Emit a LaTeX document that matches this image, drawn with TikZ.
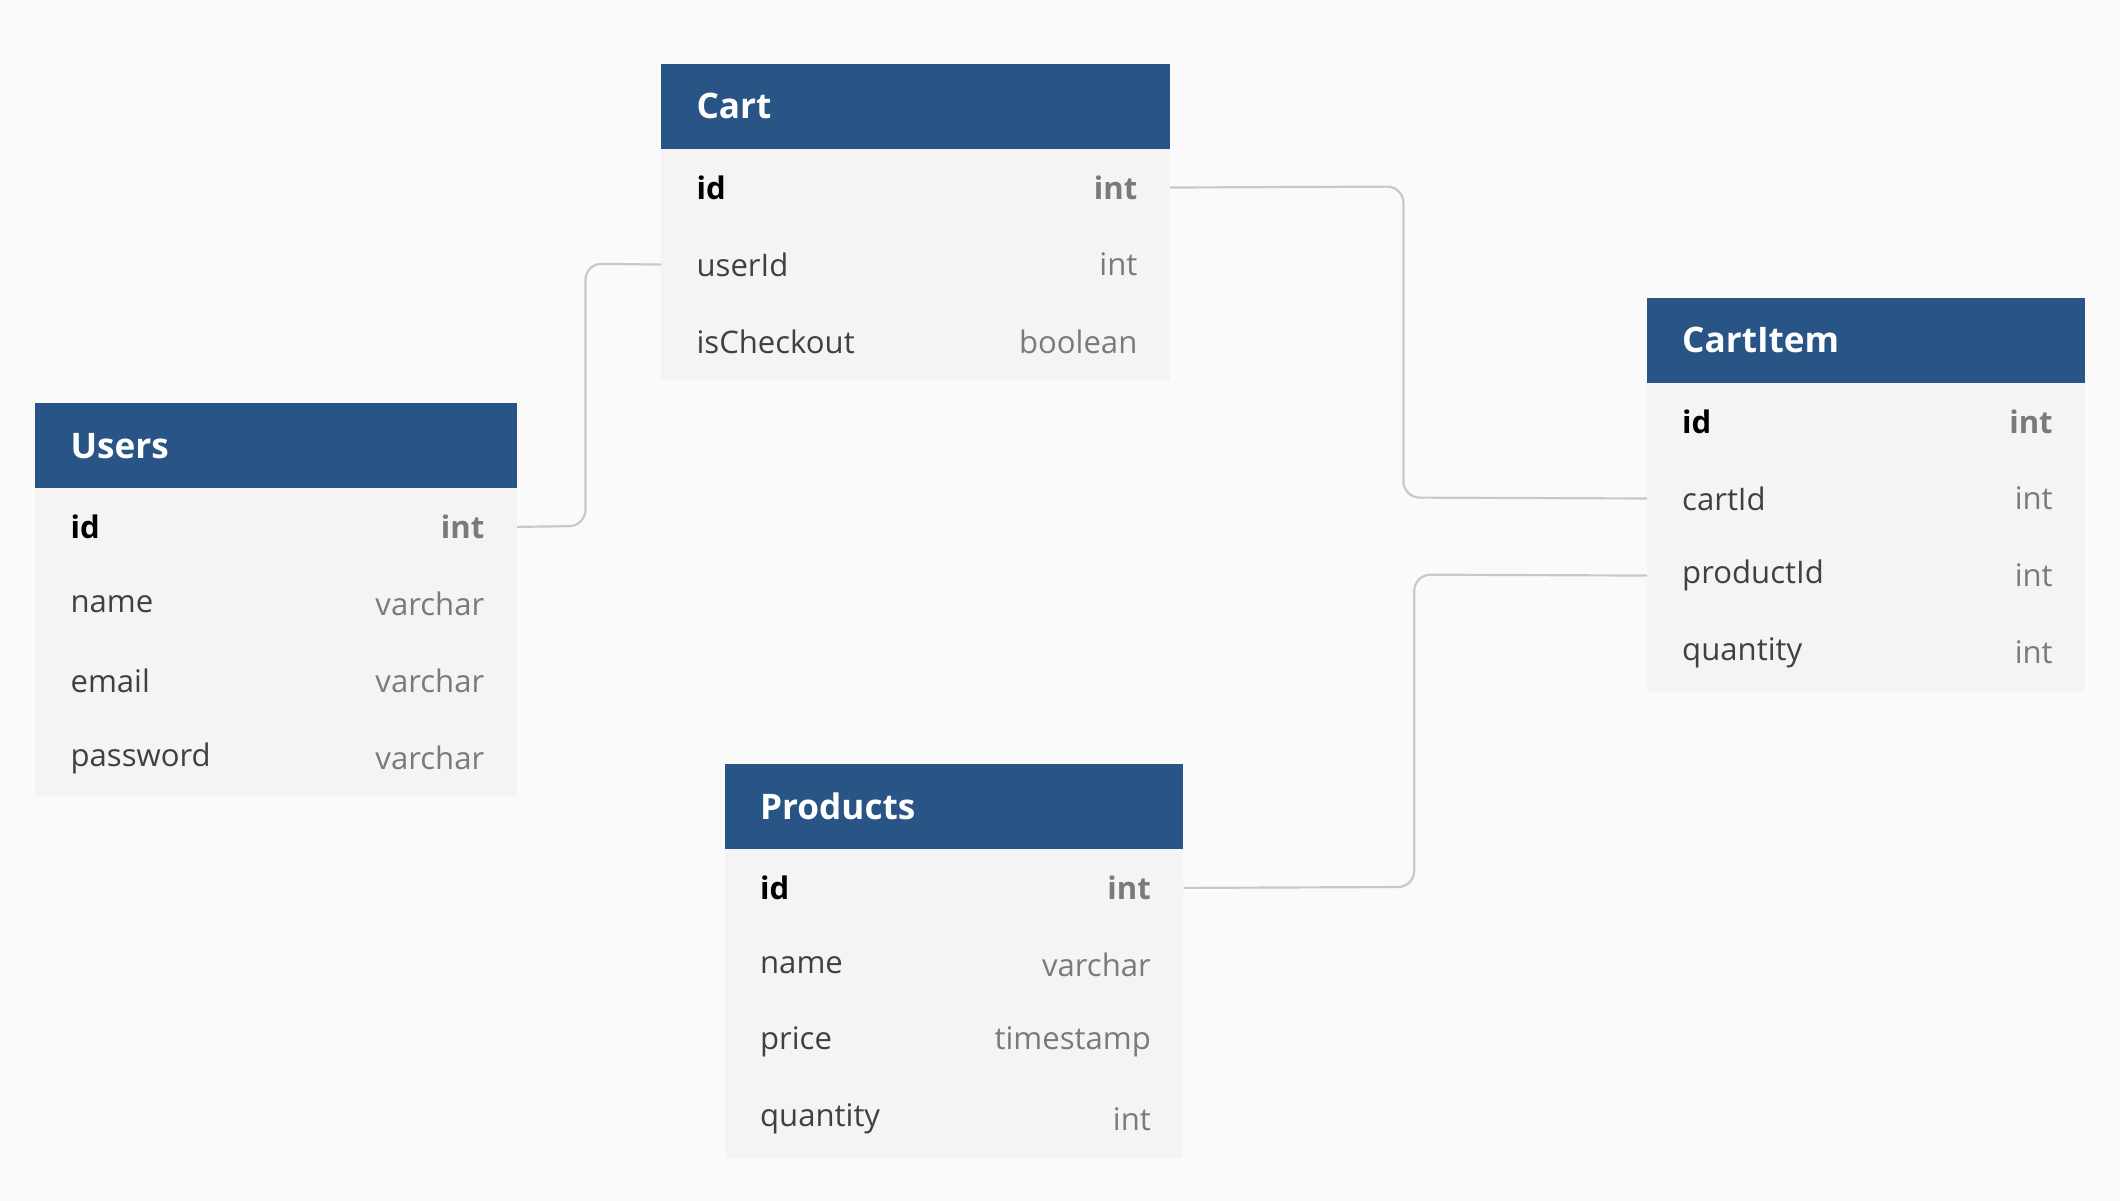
\documentclass[tikz,border=0pt]{standalone}
\usepackage{fontspec}
\setmainfont{Open Sans}
\definecolor{hdr}{HTML}{285586}
\definecolor{rowbg}{HTML}{F4F4F4}
\definecolor{bg}{HTML}{FAFAFA}
\definecolor{typ}{HTML}{7A7A7A}
\definecolor{lnk}{HTML}{C8C8C8}
\tikzset{
 hbox/.style={fill=hdr,inner sep=0,draw=none,anchor=north west},
 rbox/.style={fill=rowbg,inner sep=0,draw=none,anchor=north west,minimum height=57pt},
 ttl/.style={text=white,font=\fontsize{26}{30}\selectfont\bfseries,anchor=west,inner sep=0},
 fld/.style={text=black!75,font=\fontsize{23}{28}\selectfont,anchor=west,inner sep=0},
 typ/.style={text=typ,font=\fontsize{23}{28}\selectfont,anchor=east,inner sep=0},
 pk/.style={font=\fontsize{23}{28}\selectfont\bfseries},
 link/.style={draw=lnk,line width=1.6pt,rounded corners=12pt}
}
% #1 name, #2 x1, #3 width, #4 ytop, #5 title, #6 rows
\newcommand\ertab[6]{%
 \node[hbox,minimum width=#3pt,minimum height=63pt] (#1) at (#2,#4) {};
 \node[ttl] (#1-t) at ([xshift=26pt]#1.west) {#5};
 \foreach \f/\t [count=\i] in {#6} {
   \node[rbox,minimum width=#3pt] (#1-r\i) at (#2,#4+63+57*\i-57) {};
   \ifnum\i=1
    \node[fld,pk,text=black] at ([xshift=26pt]#1-r\i.west) {\f};
    \node[typ,pk] at ([xshift=-24pt]#1-r\i.east) {\t};
   \else
    \node[fld] at ([xshift=26pt]#1-r\i.west) {\f};
    \node[typ] at ([xshift=-24pt]#1-r\i.east) {\t};
   \fi
 }}
\begin{document}
\begin{tikzpicture}[x=1pt,y=-1pt]
\fill[bg] (0,0) rectangle (1568,888);
\useasboundingbox (0,0) rectangle (1568,888);
\ertab{cart}{489}{376}{47}{Cart}{id/int,userId/int,isCheckout/boolean}
\ertab{users}{26}{356}{298}{Users}{id/int,name/varchar,email/varchar,password/varchar}
\ertab{ci}{1218}{324}{220}{CartItem}{id/int,cartId/int,productId/int,quantity/int}
\ertab{prod}{536}{339}{565}{Products}{id/int,name/varchar,price/timestamp,quantity/int}
\draw[link] (users-r1.east) -- (433,389) -- (433,195) -- (cart-r2.west);
\draw[link] (cart-r1.east) -- (1038,138) -- (1038,368) -- (ci-r2.west);
\draw[link] (prod-r1.east) -- (1046,656) -- (1046,425) -- (ci-r3.west);
\end{tikzpicture}
\end{document}
